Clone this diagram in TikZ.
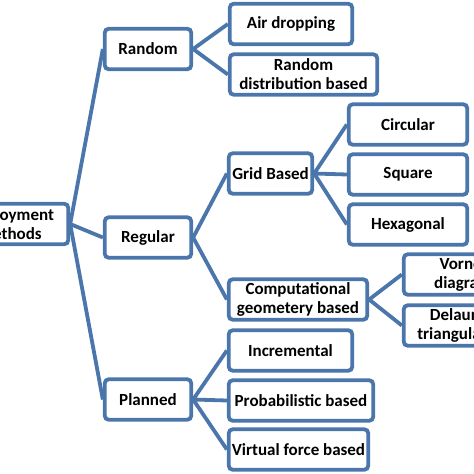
\documentclass[tikz,border=0pt]{standalone}
\usepackage{fontspec}
\setmainfont{Carlito}
\definecolor{boxblue}{RGB}{74,118,172}
\tikzset{
  box/.style={draw=boxblue, line width=3.8pt, rounded corners=4pt, fill=white,
    align=center, inner sep=1pt, minimum height=40.5pt,
    font=\fontsize{17}{19}\selectfont\bfseries},
  link/.style={draw=boxblue, line width=3.8pt}
}
\begin{document}
\begin{tikzpicture}[x=1pt, y=-1pt]
  \useasboundingbox (0,0) rectangle (474,474);
  \clip (0,0) rectangle (474,474);

  % root and first level
  \node [box, minimum width=115.5pt] (root) at (10.5, 224) {Deployment\\methods};
  \node [box, minimum width=86.5pt] (random)  at (148, 49)  {Random};
  \node [box, minimum width=86.5pt] (regular) at (148, 237.5) {Regular};
  \node [box, minimum width=86.5pt] (planned) at (148, 399.5) {Planned};

  % random
  \node [box, minimum width=122.5pt] (air)      at (291, 24)   {Air dropping};
  \node [box, minimum width=147.5pt] (randdist) at (303.5, 74.5) {Random\\distribution based};

  % regular
  \node [box, minimum width=83.5pt]  (grid)    at (270.5, 173.5) {Grid Based};
  \node [box, minimum width=138.5pt] (compgeo) at (298, 299.5) {Computational\\geometery based};
  \node [box, minimum width=118.5pt] (circular)  at (408, 124.5) {Circular};
  \node [box, minimum width=118.5pt] (square)    at (408, 174.5) {Square};
  \node [box, minimum width=118.5pt] (hexagonal) at (408, 224.5) {Hexagonal};
  \node [box, minimum width=118.5pt] (vornoi)   at (463, 274.5) {Vornoi\\diagram};
  \node [box, minimum width=118.5pt] (delaunay) at (463, 325.5) {Delaunay\\triangulation};

  % planned
  \node [box, minimum width=123.5pt] (incremental)   at (290.5, 350.5) {Incremental};
  \node [box, minimum width=144.5pt] (probabilistic) at (301, 400.5) {Probabilistic based};
  \node [box, minimum width=139.5pt] (virtual)       at (298.5, 449.5) {Virtual force based};

  \foreach \a/\b in {root/random, root/regular, root/planned,
      random/air, random/randdist, regular/grid, regular/compgeo,
      grid/circular, grid/square, grid/hexagonal,
      compgeo/vornoi, compgeo/delaunay,
      planned/incremental, planned/probabilistic, planned/virtual}
    \draw [link] (\a.east) -- (\b.west);
\end{tikzpicture}
\end{document}
